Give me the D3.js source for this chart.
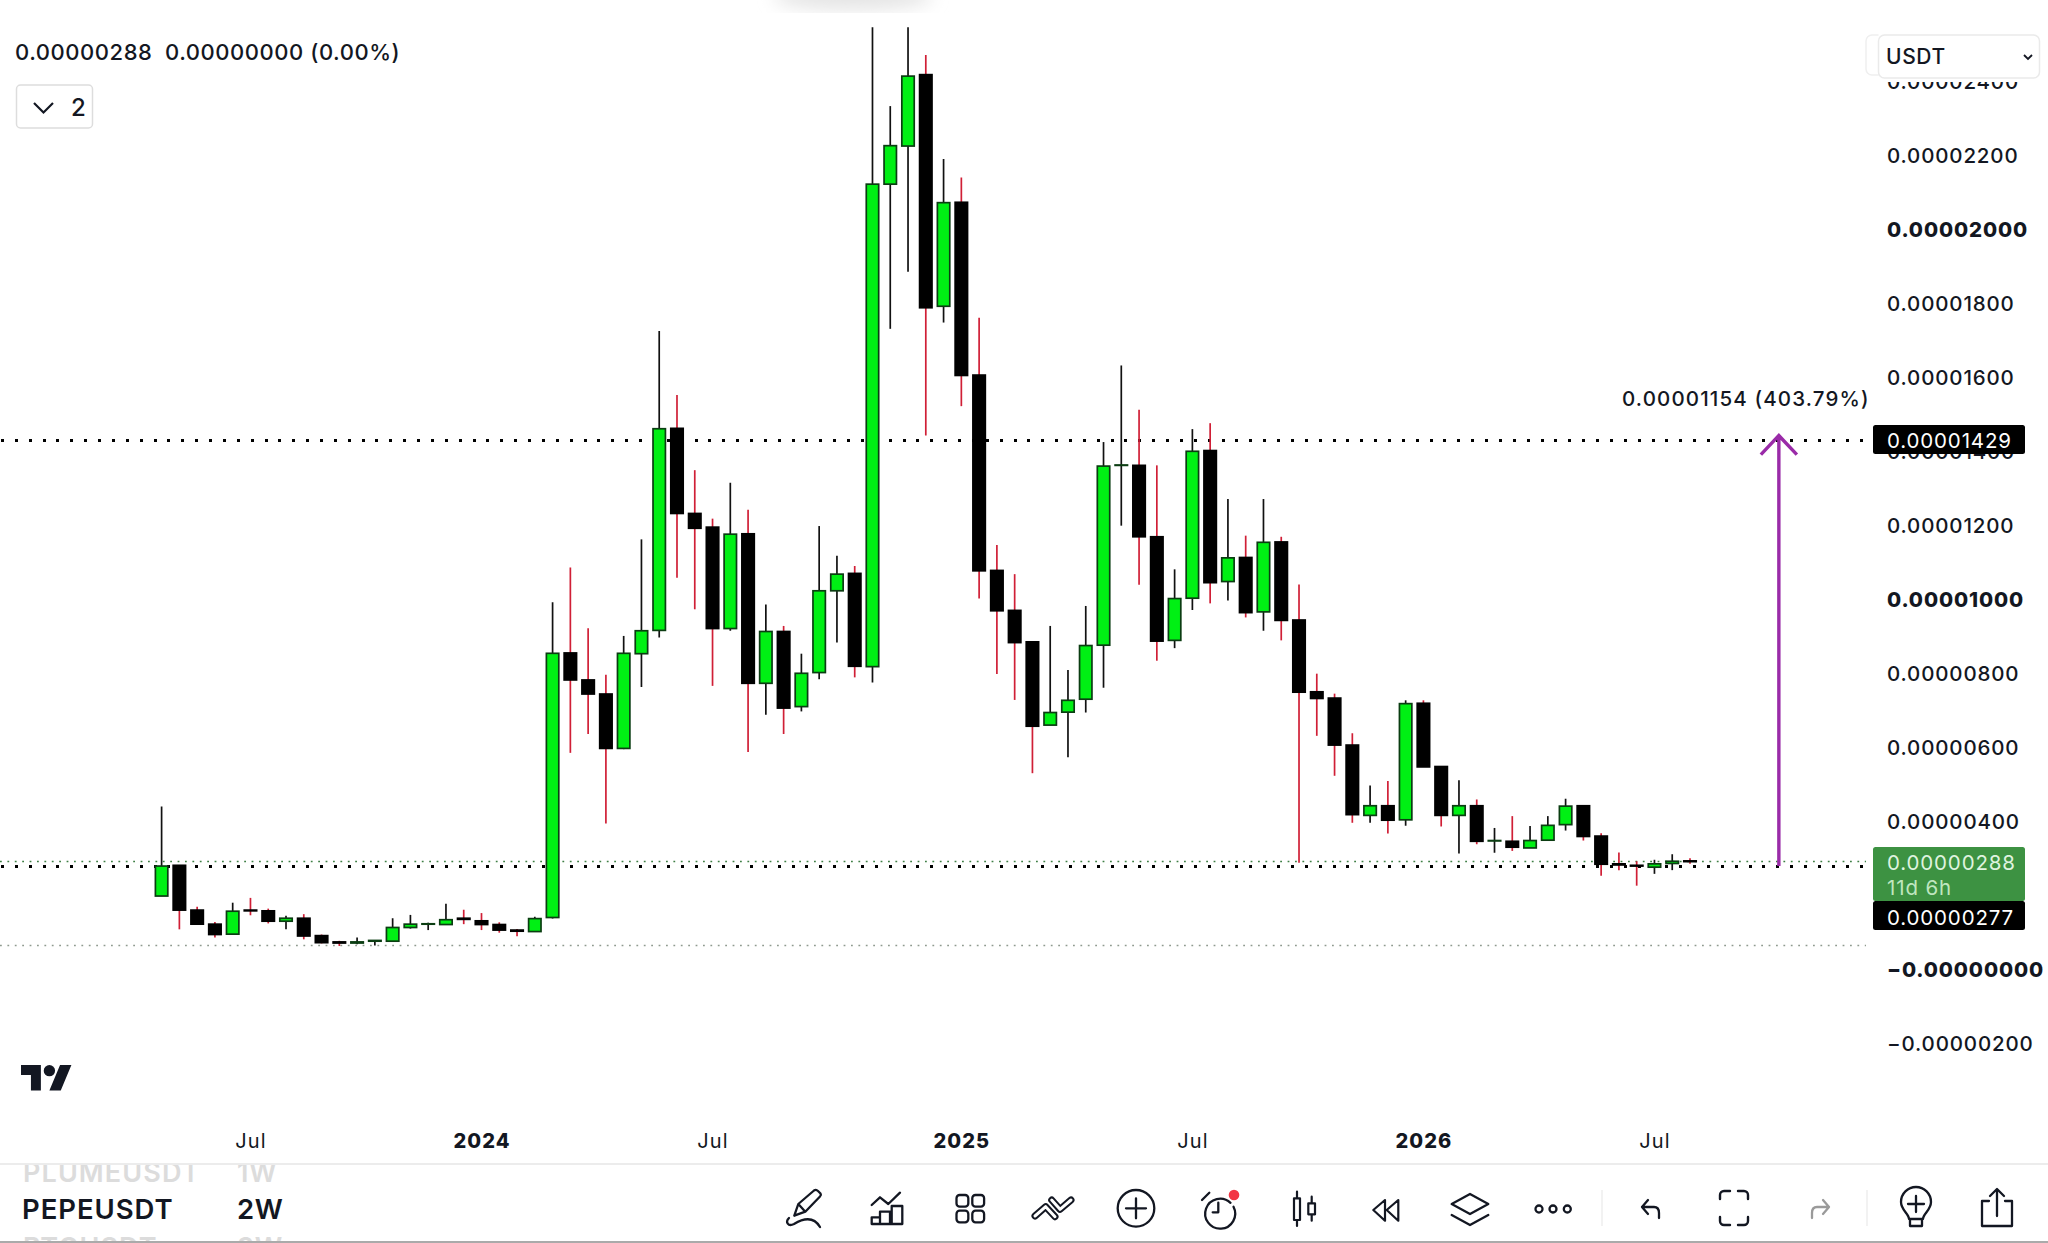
<!DOCTYPE html>
<html><head><meta charset="utf-8">
<script src="https://cdn.jsdelivr.net/npm/d3@7/dist/d3.min.js"></script>
<style>
html,body{margin:0;padding:0;background:#fff;overflow:hidden}
svg{display:block}
text{font-family:Inter,"Noto Sans",sans-serif;fill:#131722}
</style></head><body>
<svg id="c" width="2048" height="1243"></svg>
<script>
// prices in units of 0.00000001 USDT
const opens=[198,281,160,122,95,160,158,130,138,91,74,71,76,76,113,122,121,138,131,121,106,102,140,855,782,744,597,853,916,1462,1232,1195,921,1177,773,913,710,802,1023,1070,818,2122,2225,2418,1792,2073,1606,1078,970,885,660,695,730,876,1363,1362,1169,889,1003,1402,1048,1113,966,1155,944,750,733,606,416,442,404,719,548,416,442,348,346,328,349,391,442,360,285,281,276,286,293];
const closes=[279,160,122,94,157,158,130,138,90,72,71,74,78,113,122,123,134,135,121,106,103,137,854,782,744,597,854,915,1461,1232,1192,921,1176,773,913,706,800,1023,1068,819,2122,2226,2414,1788,2072,1605,1077,969,883,657,694,727,875,1360,1363,1169,887,1002,1400,1045,1112,964,1154,943,749,732,606,418,442,403,718,547,416,442,346,348,330,348,389,441,359,284,282,279,285,292,291];
const highs=[440,281,169,128,180,193,164,145,149,94,77,86,79,138,147,126,177,161,152,127,109,142,992,1086,922,796,901,1162,1725,1552,1349,1218,1315,1242,986,928,853,1198,1118,1090,2546,2333,2546,2471,2190,2140,1761,1147,1068,887,928,809,982,1425,1632,1512,1362,1081,1460,1476,1271,1172,1271,1169,1040,799,745,638,497,509,727,727,548,511,459,382,414,387,414,461,444,368,316,292,296,311,300];
const lows=[198,108,122,86,95,146,124,108,81,70,63,68,64,76,110,106,121,122,106,99,89,102,137,585,636,394,595,763,897,1058,973,766,915,587,688,636,697,784,883,789,775,1731,1885,1443,1748,1522,1002,798,728,530,660,573,694,761,1199,1039,834,868,971,989,997,951,915,889,288,631,523,396,396,367,388,547,386,313,338,315,320,328,349,375,348,253,268,226,258,268,285];

const yTickValues=[2400,2200,2000,1800,1600,1400,1200,1000,800,600,400,0,-200];
const yTickLabels=["0.00002400","0.00002200","0.00002000","0.00001800","0.00001600","0.00001400","0.00001200","0.00001000","0.00000800","0.00000600","0.00000400","\u22120.00000000","\u22120.00000200"];
const yTickBold=[2000,1000,0];
const xTickIndex=[5,18,31,45,58,71,84];
const xTickLabels=["Jul","2024","Jul","2025","Jul","2026","Jul"];
const xTickBold=["2024","2025","2026"];
const targetPrice=1429, basePrice=279, lastPrice=291, lowPrice=64, arrowIndex=91;

const svg=d3.select("#c");
const x=d3.scaleLinear().domain([0,86]).range([161.6,1690]);
const y=d3.scaleLinear().domain([0,2000]).range([969.3,229.3]);

// top shadow
const defs=svg.append("defs");
defs.append("filter").attr("id","blur").append("feGaussianBlur").attr("stdDeviation",9);
svg.append("ellipse").attr("cx",853).attr("cy",-4).attr("rx",80).attr("ry",14).attr("fill","#e4e4e4").attr("filter","url(#blur)");

// dotted levels
const plotRight=1866;
function level(v,w,dash,col,start,crisp){
  const ly=Math.floor(y(v))+0.5;
  const l=svg.append("line").attr("x1",start).attr("x2",plotRight).attr("y1",ly).attr("y2",ly)
   .attr("stroke",col).attr("stroke-width",w).attr("stroke-dasharray",dash);
  if(crisp) l.attr("shape-rendering","crispEdges");
}
level(lowPrice,1.6,"1.8 5.6","#8f9a8f",0,false);
level(lastPrice,1.6,"1.8 5.6","#3f7f45",0,false);
level(basePrice,3,"3 10.87","#000",1,true);
level(targetPrice,3,"3 10.87","#000",1,true);

// candles
const n=opens.length, idx=d3.range(n);
const isUp=i=>closes[i]>=opens[i];
svg.append("g").selectAll("line").data(idx).join("line")
  .attr("x1",i=>x(i)).attr("x2",i=>x(i))
  .attr("y1",i=>y(highs[i])).attr("y2",i=>y(lows[i]))
  .attr("stroke",i=>isUp(i)?"#111":"#d01f36").attr("stroke-width",1.7);
svg.append("g").selectAll("rect").data(idx).join("rect")
  .attr("x",i=>x(i)-6.2).attr("width",12.4)
  .attr("y",i=>y(Math.max(opens[i],closes[i])))
  .attr("height",i=>Math.max(0.4,Math.abs(y(opens[i])-y(closes[i]))))
  .attr("fill",i=>isUp(i)?"#00f014":"#000")
  .attr("stroke",i=>isUp(i)?"#0b3d12":"#000").attr("stroke-width",1.7);

// arrow
const ax=x(arrowIndex), atop=y(targetPrice)-5;
svg.append("path").attr("d",`M${ax},${y(basePrice)}L${ax},${atop}M${ax-18},${atop+19}L${ax},${atop}L${ax+18},${atop+19}`)
  .attr("fill","none").attr("stroke","#9a2ba8").attr("stroke-width",3.4);

// annotation and header
function T(s,tx,ty,size,opt={}){
  return svg.append("text").attr("x",tx).attr("y",ty).attr("dominant-baseline","central")
    .attr("font-size",size).attr("font-weight",opt.w||400).attr("letter-spacing",opt.ls||0)
    .attr("text-anchor",opt.a||"start").style("fill",opt.c||"#131722").text(s);
}
T("0.00001154 (403.79%)",1622,398,20.5,{w:500,ls:1.15});
T("0.00000288",15,52,22,{w:500,ls:0.55});
T("0.00000000 (0.00%)",165,52,22,{w:500,ls:0.55});

// y axis
const yAxis=d3.axisRight(y).tickValues(yTickValues).tickSize(0)
  .tickFormat(v=>yTickLabels[yTickValues.indexOf(v)]);
const gy=svg.append("g").attr("transform","translate(1887,0)").call(yAxis);
gy.select(".domain").remove();
gy.selectAll("text").attr("x",0).attr("dy",0).attr("dominant-baseline","central")
  .attr("font-size",20.5).style("font-family","Inter").attr("letter-spacing",0.85)
  .attr("font-weight",v=>yTickBold.includes(v)?800:450);

// x axis
const xAxis=d3.axisBottom(x).tickValues(xTickIndex).tickSize(0)
  .tickFormat((d,i)=>xTickLabels[i]);
const gx=svg.append("g").attr("transform","translate(0,1141)").call(xAxis);
gx.select(".domain").remove();
gx.selectAll("text").attr("y",0).attr("dy",0).attr("dominant-baseline","central")
  .attr("font-size",20).style("font-family","Inter").attr("letter-spacing",1.1)
  .attr("font-weight",(d,i)=>xTickBold.includes(xTickLabels[i])?800:400);

// price labels
function box(x0,y0,w,h,c,r){svg.append("rect").attr("x",x0).attr("y",y0).attr("width",w).attr("height",h).attr("rx",r).attr("fill",c);}
box(1873,425,152,29,"#000",2.5);
T("0.00001429",1887,440,20.5,{c:"#fff",ls:0.85});
box(1873,847,152,54,"#3d9242",2.5);
box(1873,901,152,29,"#000",2.5);
T("0.00000288",1887,862,20.5,{c:"#dff3df",ls:0.85});
T("11d 6h",1887,887,20.5,{c:"#bfe6bf",ls:0.85});
T("0.00000277",1887,917,20.5,{c:"#fff",ls:0.85});

// top-right currency selector
svg.append("rect").attr("x",1866).attr("y",35).attr("width",40).attr("height",40).attr("rx",6).attr("fill","#fff").attr("stroke","#efefef").attr("stroke-width",1.5);
svg.append("rect").attr("x",1878.5).attr("y",0).attr("width",169).attr("height",82).attr("fill","#fff");
svg.append("rect").attr("x",1878.5).attr("y",35).attr("width",161).attr("height",43).attr("rx",6).attr("fill","#fff").attr("stroke","#eaeaea").attr("stroke-width",1.5);
T("USDT",1886,56,21,{w:450,ls:0.6});
svg.append("path").attr("d","M2024,55l4,4l4,-4").attr("fill","none").attr("stroke","#131722").attr("stroke-width",1.8);

// legend toggle
svg.append("rect").attr("x",16.5).attr("y",85).attr("width",76).attr("height",43).attr("rx",4).attr("fill","#fff").attr("stroke","#ddd").attr("stroke-width",1.5);
svg.append("path").attr("d","M34,103l9.5,9.5l9.5,-9.5").attr("fill","none").attr("stroke","#131722").attr("stroke-width",2.2);
T("2",71,107,24,{w:500});

// logo
const logo=svg.append("g").attr("transform","translate(21,1059.3) scale(1.42)").attr("fill","#131722");
logo.append("path").attr("d","M14 22H7V11H0V4h14v18zM28 22h-8l7.5-18h8L28 22z");
logo.append("circle").attr("cx",20).attr("cy",8).attr("r",4);

// bottom panel
svg.append("rect").attr("x",0).attr("y",1164).attr("width",2048).attr("height",79).attr("fill","#fff");
svg.append("line").attr("x1",0).attr("x2",2048).attr("y1",1164).attr("y2",1164).attr("stroke","#e6e6e6").attr("stroke-width",1.5);
defs.append("clipPath").attr("id","panel").append("rect").attr("x",0).attr("y",1165).attr("width",2048).attr("height",76);
const pg=svg.append("g").attr("clip-path","url(#panel)");
function P(s,tx,ty,size,c,w,ls){pg.append("text").attr("x",tx).attr("y",ty).attr("dominant-baseline","central").attr("font-size",size).attr("font-weight",w).attr("letter-spacing",ls).style("fill",c).text(s);}
P("PLUMEUSDT",23,1172,27,"#dcdcdc",600,1.1);
P("1W",237,1172,27,"#dcdcdc",600,0.6);
P("PEPEUSDT",22,1209,27.5,"#131722",600,0.95);
P("2W",237,1209,27.5,"#131722",600,0.6);
P("BTCUSDT",23,1247,27,"#dcdcdc",600,1.1);
P("3W",237,1247,27,"#dcdcdc",600,0.6);
svg.append("line").attr("x1",0).attr("x2",2048).attr("y1",1242).attr("y2",1242).attr("stroke","#aaa").attr("stroke-width",2);

// toolbar icons
const ink="#131722";
function icon(cx,d,o={}){
  svg.append("path").attr("transform",`translate(${cx},1208)`).attr("d",d)
    .attr("fill","none").attr("stroke",o.c||ink).attr("stroke-width",o.w||2.3)
    .attr("stroke-linejoin","round").attr("stroke-linecap","round");
}
const sq=(a,b)=>`M${a+3.2},${b}h5.4a3.2,3.2 0 0 1 3.2,3.2v5.2a3.2,3.2 0 0 1 -3.2,3.2h-5.4a3.2,3.2 0 0 1 -3.2,-3.2v-5.2a3.2,3.2 0 0 1 3.2,-3.2Z`;
const ring=(a,b,r)=>`M${a-r},${b}a${r},${r} 0 1 0 ${2*r},0a${r},${r} 0 1 0 ${-2*r},0Z`;
icon(805,"M-10.7,7.7L-6.7,-4L9,-17.5Q11,-19 13,-17L15.5,-14.5Q16.5,-13 15,-11.5L0.3,3.7ZM-6.7,-4L0.3,3.7M15,19C9,9 -1,10 -11,16C-17,19 -20,14 -16,10");
icon(886,"M-14.3,16H16.3V-2H5.7V16M-14.3,16V9.3H-6V16M-6,9.3V3.7H4V16M-14.3,-3L-6,-10.7L2.3,-4L14,-15.3");
icon(970,sq(-13.5,-13)+sq(2.3,-13)+sq(-13.5,2.7)+sq(2.3,2.7));
icon(1054,"M-19,8L-8.3,-1.3L1,8.7M-2.3,-8L6,1.3L17,-8",{w:7});
icon(1054,"M-19,8L-8.3,-1.3L1,8.7M-2.3,-8L6,1.3L17,-8",{w:3,c:"#fff"});
icon(1136,ring(0,0.3,18.3)+"M-10,0.3H10M0,-9.7V10.3");
icon(1220,"M10.5,-5.2A15,15 0 1 0 13.5,-1.2M-1.7,-5.3V4.3H-7.3M-18,-8L-10.7,-15.3");
svg.append("circle").attr("cx",1234).attr("cy",1195).attr("r",5.3).attr("fill","#f23645");
icon(1302,"M-8,-9.7h6V12h-6ZM-5,-16.3V-9.7M-5,12V18M6.3,-4.7h6.7V6.3h-6.7ZM9.7,-11.3V-4.7M9.7,6.3V12.7",{w:2.2});
icon(1386,"M12.3,-8L0.7,2L12.3,12.7ZM-1,-8L-12.7,2L-1,12.7Z",{w:2.2});
icon(1471,"M-19.3,-4L-1,-14L17.3,-4L-1,6ZM-19.3,7L-1,17L17.3,7");
icon(1553,ring(-14,1,3.5)+ring(0,1,3.5)+ring(14.3,1,3.5),{w:2.3});
icon(1651,"M-3,-8L-9,-1L-3,6M-9,-1H3C7,-1 8,2 8,5V10");
icon(1734,"M-14,-9V-13a4,4 0 0 1 4,-4H-4M4,-17H10a4,4 0 0 1 4,4V-9M-14,9V13a4,4 0 0 0 4,4H-4M4,17H10a4,4 0 0 0 4,-4V9",{w:2.4});
icon(1820,"M3,-8L9,-1L3,6M9,-1H-3C-7,-1 -8,2 -8,5V10",{c:"#9a9a9a"});
icon(1916,"M-7,11C-7,6 -15,2 -15,-6a15,15 0 1 1 30,0C15,2 7,6 7,11ZM-6,11V18H6V11M-8,-4H8M0,-12V4");
icon(1997,"M-8,-7H-15V18H15V-7H8M0,8V-18M-7,-12L0,-19L7,-12");
[1602,1867].forEach(sx=>svg.append("line").attr("x1",sx).attr("x2",sx).attr("y1",1190).attr("y2",1226).attr("stroke","#eee").attr("stroke-width",1.5));
</script></body></html>
